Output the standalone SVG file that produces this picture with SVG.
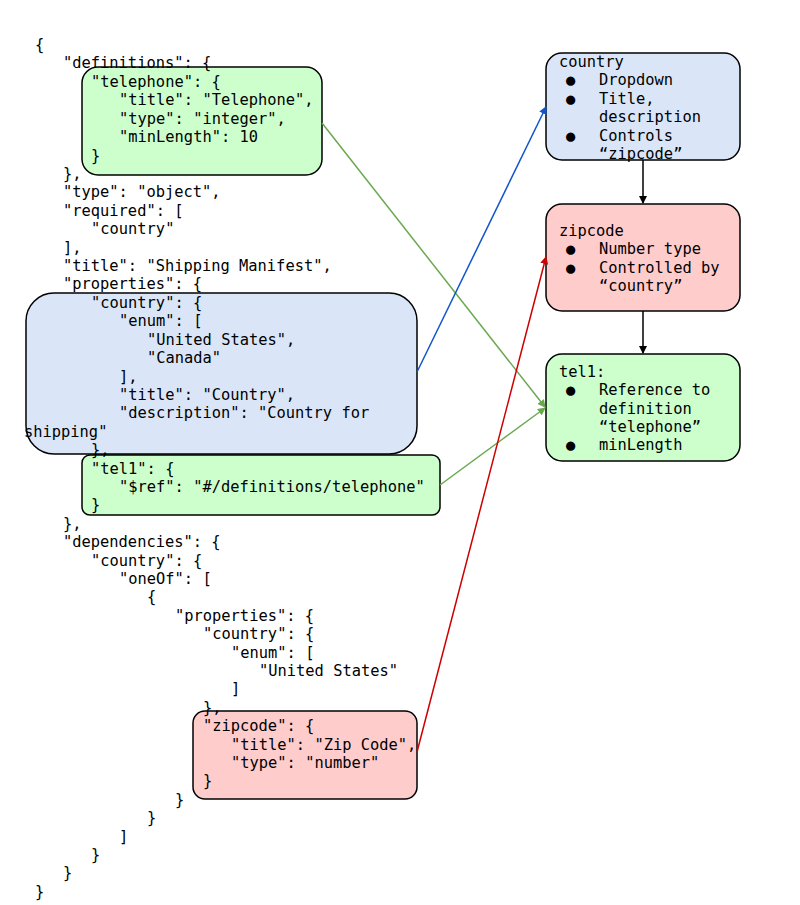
<svg xmlns="http://www.w3.org/2000/svg" width="800" height="905" viewBox="0 0 800 905">
<defs>
<style>
text{font-family:"DejaVu Sans Mono","Liberation Mono",monospace;font-size:15.4px;fill:#000}
.box{stroke:#000;stroke-width:1.5}
.g{fill:#ccffcc}.b{fill:#dae6f8}.r{fill:#ffcccc}
.c{fill:none;stroke-width:1.5}
</style>
<marker id="ak" markerWidth="8" markerHeight="8" refX="7" refY="4" orient="auto" markerUnits="userSpaceOnUse"><path d="M0,0L8,4L0,8z" fill="#000"/></marker>
<marker id="ag" markerWidth="8" markerHeight="8" refX="7" refY="4" orient="auto" markerUnits="userSpaceOnUse"><path d="M0,0L8,4L0,8z" fill="#6aa84f"/></marker>
<marker id="ab" markerWidth="8" markerHeight="8" refX="7" refY="4" orient="auto" markerUnits="userSpaceOnUse"><path d="M0,0L8,4L0,8z" fill="#1155cc"/></marker>
<marker id="ar" markerWidth="8" markerHeight="8" refX="7" refY="4" orient="auto" markerUnits="userSpaceOnUse"><path d="M0,0L8,4L0,8z" fill="#cc0000"/></marker>
</defs>
<rect width="800" height="905" fill="#fff"/>
<g id="code-boxes">
<rect class="box g" x="82" y="67" width="240" height="108" rx="16"/>
<rect class="box b" x="26" y="293" width="391" height="161" rx="28"/>
<rect class="box g" x="82" y="455" width="358" height="60" rx="8"/>
<rect class="box r" x="193" y="711" width="224" height="88" rx="12"/>
</g>
<g id="code">
<text x="35" y="50">{</text>
<text x="63" y="68">"definitions": {</text>
<text x="91" y="87">"telephone": {</text>
<text x="119" y="105">"title": "Telephone",</text>
<text x="119" y="124">"type": "integer",</text>
<text x="119" y="142">"minLength": 10</text>
<text x="91" y="161">}</text>
<text x="63" y="179">},</text>
<text x="63" y="197">"type": "object",</text>
<text x="63" y="216">"required": [</text>
<text x="91" y="234">"country"</text>
<text x="63" y="253">],</text>
<text x="63" y="271">"title": "Shipping Manifest",</text>
<text x="63" y="289">"properties": {</text>
<text x="91" y="308">"country": {</text>
<text x="119" y="326">"enum": [</text>
<text x="147" y="345">"United States",</text>
<text x="147" y="363">"Canada"</text>
<text x="119" y="382">],</text>
<text x="119" y="400">"title": "Country",</text>
<text x="119" y="418">"description": "Country for</text>
<text x="24" y="437">shipping"</text>
<text x="91" y="455">},</text>
<text x="91" y="474">"tel1": {</text>
<text x="119" y="492">"$ref": "#/definitions/telephone"</text>
<text x="91" y="510">}</text>
<text x="63" y="529">},</text>
<text x="63" y="547">"dependencies": {</text>
<text x="91" y="566">"country": {</text>
<text x="119" y="584">"oneOf": [</text>
<text x="147" y="602">{</text>
<text x="175" y="621">"properties": {</text>
<text x="203" y="639">"country": {</text>
<text x="231" y="658">"enum": [</text>
<text x="259" y="676">"United States"</text>
<text x="231" y="694">]</text>
<text x="203" y="713">},</text>
<text x="203" y="731">"zipcode": {</text>
<text x="231" y="750">"title": "Zip Code",</text>
<text x="231" y="768">"type": "number"</text>
<text x="203" y="786">}</text>
<text x="175" y="805">}</text>
<text x="147" y="823">}</text>
<text x="119" y="842">]</text>
<text x="91" y="860">}</text>
<text x="63" y="878">}</text>
<text x="35" y="897">}</text>
</g>
<g id="node-country">
<rect class="box b" x="546" y="53" width="194" height="107" rx="16"/>
<text x="559" y="67">country</text>
<text x="566" y="85">●</text><text x="599" y="85">Dropdown</text>
<text x="566" y="104">●</text><text x="599" y="104">Title,</text>
<text x="599" y="122">description</text>
<text x="566" y="141">●</text><text x="599" y="141">Controls</text>
<text x="599" y="159">“zipcode”</text>
</g>
<g id="node-zipcode">
<rect class="box r" x="546" y="204" width="194" height="107" rx="16"/>
<text x="559" y="236">zipcode</text>
<text x="566" y="254">●</text><text x="599" y="254">Number type</text>
<text x="566" y="273">●</text><text x="599" y="273">Controlled by</text>
<text x="599" y="291">“country”</text>
</g>
<g id="node-tel1">
<rect class="box g" x="546" y="354" width="194" height="107" rx="16"/>
<text x="559" y="377">tel1:</text>
<text x="566" y="395">●</text><text x="599" y="395">Reference to</text>
<text x="599" y="414">definition</text>
<text x="599" y="432">“telephone”</text>
<text x="566" y="450">●</text><text x="599" y="450">minLength</text>
</g>
<g id="connectors">
<line class="c" x1="643" y1="160" x2="643" y2="203" stroke="#000" marker-end="url(#ak)"/>
<line class="c" x1="643" y1="311" x2="643" y2="353" stroke="#000" marker-end="url(#ak)"/>
<line class="c" x1="322" y1="123" x2="545" y2="407" stroke="#6aa84f" marker-end="url(#ag)"/>
<line class="c" x1="440" y1="485" x2="545" y2="408" stroke="#6aa84f" marker-end="url(#ag)"/>
<line class="c" x1="417" y1="372" x2="546" y2="107" stroke="#1155cc" marker-end="url(#ab)"/>
<line class="c" x1="417" y1="752" x2="546" y2="257" stroke="#cc0000" marker-end="url(#ar)"/>
</g>
</svg>
